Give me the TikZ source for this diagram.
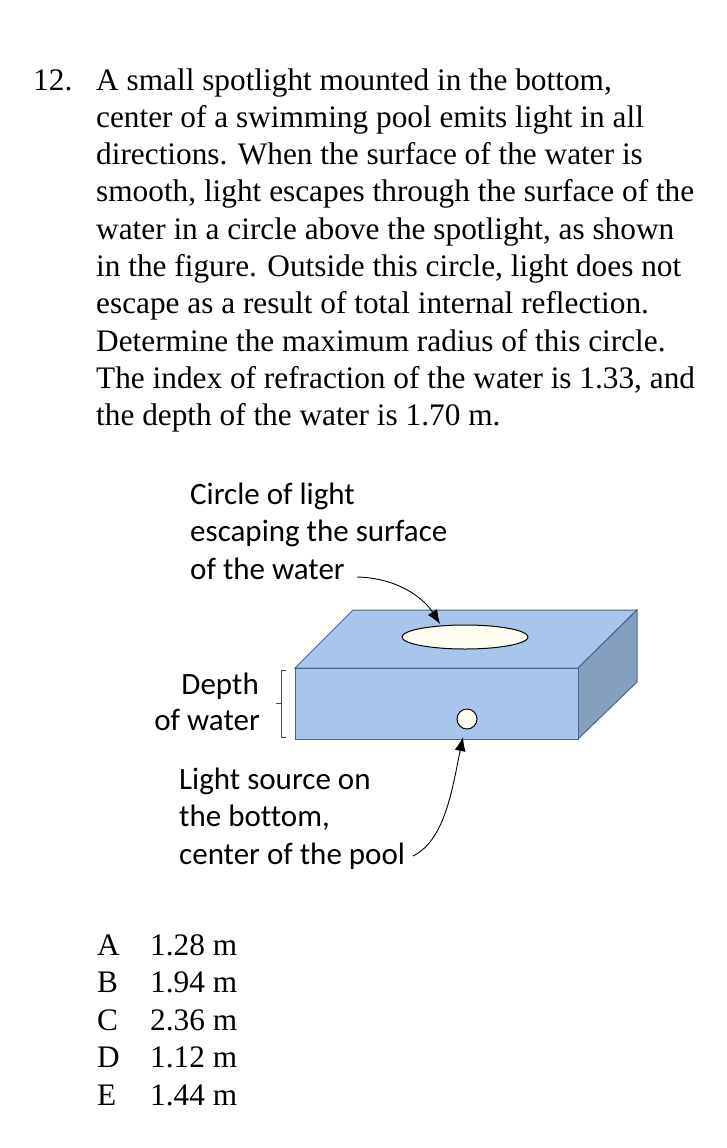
\documentclass[tikz,border=0pt]{standalone}
\usepackage{fontspec}
\usetikzlibrary{arrows.meta,shapes.geometric}
\setmainfont{Liberation Serif}
\newfontfamily\calfont[Ligatures={NoCommon}]{Carlito}
\begin{document}
\begin{tikzpicture}[x=1pt,y=-1pt,
  q/.style={anchor=base west,inner sep=0pt,font=\fontsize{31.3}{36}\selectfont},
  lab/.style={anchor=base west,inner sep=0pt,font=\calfont\fontsize{31}{37}\selectfont},
  arr/.style={-{Latex[length=14pt,width=11pt]},line width=0.9pt},
  face/.style={draw={rgb,255:red,70;green,100;blue,150},line width=1pt}]
\useasboundingbox (0,0) rectangle (726,1148);
\node[q] (n12) at (33,90) {12.};
\foreach \t [count=\i] in {{A small spotlight mounted in the bottom,},center of a swimming pool emits light in all,directions. When the surface of the water is,{smooth, light escapes through the surface of the},{water in a circle above the spotlight, as shown},{in the figure. Outside this circle, light does not},escape as a result of total internal reflection.,Determine the maximum radius of this circle.,{The index of refraction of the water is 1.33, and},the depth of the water is 1.70 m.}
  \node[q] (l\i) at (96,{90+37.3*(\i-1)}) {\t};
% pool
\fill[face,fill={rgb,255:red,168;green,198;blue,236}] (295,668) -- (353,610) -- (637,610) -- (578,668) -- cycle;
\fill[face,fill={rgb,255:red,132;green,160;blue,190}] (578,668) -- (637,610) -- (637,682) -- (578,739) -- cycle;
\fill[face,fill={rgb,255:red,168;green,198;blue,236}] (295,668) rectangle (578,739);
\node[draw,line width=1pt,fill={rgb,255:red,255;green,253;blue,240},ellipse,minimum width=126pt,minimum height=24pt,inner sep=0pt] (ell) at (465,637) {};
\node[draw,line width=1pt,fill={rgb,255:red,255;green,253;blue,240},circle,minimum size=20pt,inner sep=0pt] (src) at (467,719) {};
% bracket
\draw[line width=1pt,gray!60!black] (286,670) -- (281,670) -- (281,737) -- (286,737) (281,703) -- (276,703);
\node[lab] (c1) at (190,504) {Circle of light};
\node[lab] (c2) at (190,541) {escaping the surface};
\node[lab] (c3) at (190,579) {of the water};
\node[lab,anchor=base east] (d1) at (259,694) {Depth};
\node[lab,anchor=base east] (d2) at (260,730) {of water};
\node[lab] (s1) at (179,789) {Light source on};
\node[lab] (s2) at (179,826) {the bottom,};
\node[lab] (s3) at (179,864) {center of the pool};
\coordinate (a1) at (357,577);
\draw[arr] (a1) .. controls (400,578) and (425,600) .. (440,624);
\coordinate (a2) at (413,856);
\draw[arr] (a2) .. controls (445,840) and (452,790) .. (463,737);
\foreach \L/\V [count=\i] in {A/1.28,B/1.94,C/2.36,D/1.12,E/1.44}{
  \node[q] (k\i) at (97,{955+37.6*(\i-1)}) {\L};
  \node[q] (v\i) at (150,{955+37.6*(\i-1)}) {\V\ m};}
\end{tikzpicture}
\end{document}
